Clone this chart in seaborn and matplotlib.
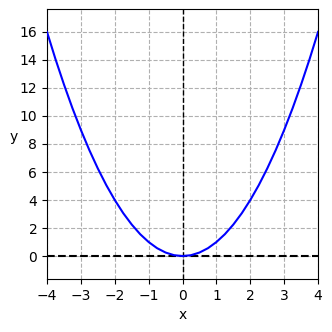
import matplotlib
matplotlib.use("Agg")
import matplotlib.pyplot as plt
import seaborn as sns
import pandas as pd

x_vals = [-4.0, -3.75, -3.5, -3.25, -3.0, -2.75, -2.5, -2.25, -2.0, -1.75, -1.5, -1.25, -1.0,
          -0.75, -0.5, -0.25, 0.0, 0.25, 0.5, 0.75, 1.0, 1.25, 1.5, 1.75, 2.0, 2.25, 2.5,
          2.75, 3.0, 3.25, 3.5, 3.75, 4.0]
y_vals = [16.0, 14.06, 12.25, 10.56, 9.0, 7.56, 6.25, 5.06, 4.0, 3.06, 2.25, 1.56, 1.0,
          0.56, 0.25, 0.06, 0.0, 0.06, 0.25, 0.56, 1.0, 1.56, 2.25, 3.06, 4.0, 5.06, 6.25,
          7.56, 9.0, 10.56, 12.25, 14.06, 16.0]
x_ticks = [-4, -3, -2, -1, 0, 1, 2, 3, 4]
y_ticks = [0, 2, 4, 6, 8, 10, 12, 14, 16]

df = pd.DataFrame({"x": x_vals, "y": y_vals})

fig = plt.figure(figsize=(3.32, 3.32), dpi=100)
ax = fig.add_axes([0.1416, 0.1596, 0.8164, 0.8134])
sns.lineplot(data=df, x="x", y="y", color="blue", linewidth=1.5, ax=ax, zorder=3)
ax.axhline(0, color="black", linestyle="--", linewidth=1.5, zorder=2)
ax.axvline(0, color="black", linestyle="--", linewidth=1.0, zorder=2)
ax.grid(True, linestyle="--", color="#b0b0b0", linewidth=0.8)
ax.set_xlim(-4, 4)
ax.set_ylim(-1.64, 17.64)
ax.set_xticks(x_ticks)
ax.set_yticks(y_ticks)
ax.set_xlabel("x")
ax.set_ylabel("y", rotation=0, labelpad=4)
fig.savefig("out.png", dpi=100)
